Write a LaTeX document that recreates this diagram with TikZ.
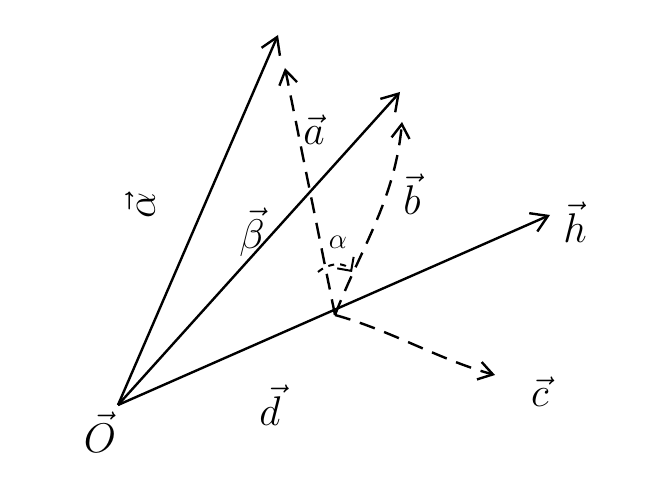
\documentclass[tikz,border=0pt]{standalone}
\usetikzlibrary{arrows.meta}
\begin{document}
\begin{tikzpicture}[x=0.5pt,y=-0.5pt,
  vec/.style={line width=1.2pt,-{Straight Barb[length=8pt,width=10pt]}},
  dvec/.style={line width=1.2pt,dashed,dash pattern=on 8pt off 5pt,-{Straight Barb[length=7pt,width=9pt]}},
  lab/.style={font=\huge}]
\useasboundingbox (0,0) rectangle (666,486);
\coordinate (O) at (118,405);
\coordinate (A) at (278,35);
\coordinate (B) at (400,92);
\coordinate (H) at (550,215);
\coordinate (P) at (335,315);
\coordinate (Ta) at (285,68);
\coordinate (Tb) at (402,122);
\coordinate (Tc) at (495,375);
\draw[vec] (O) -- (A);
\draw[vec] (O) -- (B);
\draw[vec] (O) -- (H);
\draw[dvec] (P) -- (Ta);
\draw[dvec] (P) .. controls (360,250) and (395,200) .. (Tb);
\draw[dvec] (P) .. controls (390,330) and (440,360) .. (Tc);
\draw[line width=1pt,dashed,-{Straight Barb[length=5pt]}] (318,272) .. controls (330,262) and (345,262) .. (352,272);
\node[lab] (nO) at (100,432) {$\vec{O}$};
\node[lab,rotate=90] (na) at (140,205) {$\vec{\alpha}$};
\node[lab] (nb) at (252,232) {$\vec{\beta}$};
\node[lab] (nh) at (575,222) {$\vec{h}$};
\node[lab] (nd) at (270,405) {$\vec{d}$};
\node[lab] (nA) at (314,130) {$\vec{a}$};
\node[lab] (nB) at (412,194) {$\vec{b}$};
\node[lab] (nC) at (540,392) {$\vec{c}$};
\node[font=\Large] (al) at (338,242) {$\alpha$};
\end{tikzpicture}
\end{document}
